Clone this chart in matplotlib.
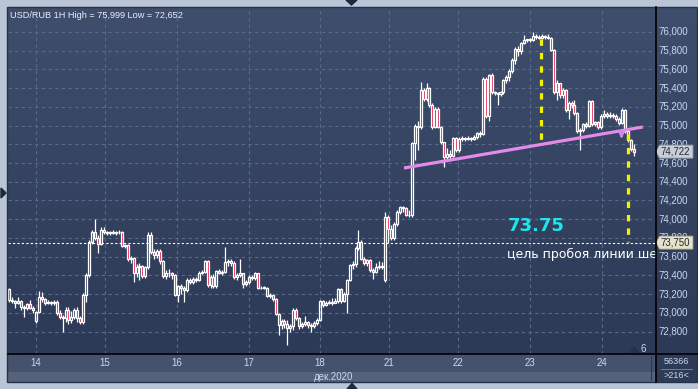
import numpy as np
import matplotlib.pyplot as plt
from matplotlib.patches import Polygon, Rectangle

W, H = 698, 389

# hourly USD/RUB candles, 11 Dec 14:00 .. 24 Dec
opens = [73.25, 73.14, 73.13, 73.10, 73.13, 73.06, 73.05, 73.09, 73.05, 72.91,
         73.01, 73.17, 73.15, 73.11, 73.12, 73.10, 73.12, 73.00, 72.96, 72.94,
         73.03, 72.92, 72.96, 73.03, 72.94, 72.90, 73.19, 73.40, 73.76, 73.86,
         73.80, 73.74, 73.88, 73.86, 73.85, 73.86, 73.85, 73.86, 73.86, 73.71,
         73.72, 73.57, 73.59, 73.43, 73.49, 73.50, 73.39, 73.49, 73.83, 73.65,
         73.62, 73.66, 73.55, 73.39, 73.43, 73.42, 73.40, 73.19, 73.29, 73.27,
         73.24, 73.35, 73.33, 73.36, 73.35, 73.43, 73.44, 73.55, 73.30, 73.38,
         73.29, 73.45, 73.43, 73.44, 73.54, 73.55, 73.53, 73.38, 73.40, 73.42,
         73.31, 73.33, 73.38, 73.37, 73.42, 73.26, 73.27, 73.27, 73.18, 73.19,
         73.15, 72.99, 72.87, 72.91, 72.88, 72.84, 72.86, 73.03, 72.94, 72.86,
         72.88, 72.90, 72.87, 72.86, 72.89, 72.92, 73.13, 73.08, 73.11, 73.12,
         73.11, 73.13, 73.25, 73.13, 73.20, 73.35, 73.51, 73.52, 73.69, 73.76,
         73.58, 73.53, 73.56, 73.46, 73.44, 73.49, 73.50, 73.35, 74.02, 73.90,
         73.80, 73.95, 74.08, 74.13, 74.12, 74.05, 74.04, 74.81, 75.00, 74.98,
         75.38, 75.28, 75.40, 75.22, 74.98, 75.18, 74.99, 74.82, 74.66, 74.70,
         74.68, 74.87, 74.74, 74.86, 74.87, 74.86, 74.87, 74.86, 74.88, 74.92,
         74.91, 75.50, 75.10, 75.54, 75.36, 75.35, 75.34, 75.36, 75.49, 75.52,
         75.58, 75.70, 75.82, 75.80, 75.88, 75.91, 75.92, 75.91, 75.96, 75.95,
         75.94, 75.96, 75.95, 75.94, 75.81, 75.36, 75.45, 75.33, 75.38, 75.17,
         75.24, 75.22, 75.13, 74.94, 74.95, 75.02, 75.00, 75.26, 75.02, 75.04,
         74.98, 75.10, 75.12, 75.10, 75.11, 75.10, 75.07, 75.03, 75.17, 74.94,
         74.85, 74.75]
highs = [73.27, 73.17, 73.14, 73.17, 73.14, 73.08, 73.10, 73.14, 73.07, 73.02,
         73.23, 73.22, 73.16, 73.14, 73.13, 73.14, 73.14, 73.03, 72.98, 73.06,
         73.06, 73.02, 73.05, 73.06, 72.97, 73.21, 73.42, 73.78, 73.88, 74.00,
         73.83, 73.92, 73.92, 73.87, 73.87, 73.88, 73.87, 73.88, 73.87, 73.74,
         73.74, 73.61, 73.60, 73.52, 73.53, 73.51, 73.50, 73.86, 73.86, 73.68,
         73.68, 73.68, 73.56, 73.46, 73.47, 73.44, 73.41, 73.30, 73.31, 73.29,
         73.37, 73.37, 73.38, 73.38, 73.45, 73.46, 73.56, 73.56, 73.40, 73.41,
         73.46, 73.47, 73.46, 73.70, 73.58, 73.57, 73.55, 73.42, 73.57, 73.43,
         73.35, 73.40, 73.40, 73.44, 73.43, 73.29, 73.29, 73.28, 73.21, 73.20,
         73.16, 73.00, 72.93, 72.93, 72.92, 72.88, 73.05, 73.05, 72.95, 72.90,
         72.97, 72.91, 72.89, 72.91, 72.94, 73.14, 73.14, 73.13, 73.14, 73.16,
         73.16, 73.27, 73.26, 73.22, 73.36, 73.52, 73.55, 73.71, 73.89, 73.78,
         73.60, 73.58, 73.57, 73.48, 73.53, 73.55, 73.54, 74.08, 74.04, 73.94,
         73.97, 74.10, 74.14, 74.14, 74.13, 74.10, 74.83, 75.02, 75.05, 75.47,
         75.40, 75.45, 75.41, 75.24, 75.20, 75.20, 75.00, 74.83, 74.76, 74.74,
         74.88, 74.88, 74.88, 74.89, 74.88, 74.89, 74.88, 74.90, 74.93, 74.94,
         75.52, 75.52, 75.55, 75.56, 75.37, 75.36, 75.37, 75.50, 75.54, 75.60,
         75.72, 75.84, 75.85, 75.89, 75.97, 75.93, 75.94, 75.999, 75.98, 75.97,
         75.98, 75.97, 75.98, 75.95, 75.82, 75.49, 75.46, 75.40, 75.39, 75.26,
         75.26, 75.27, 75.14, 74.97, 75.03, 75.04, 75.27, 75.27, 75.05, 75.05,
         75.12, 75.17, 75.14, 75.15, 75.13, 75.12, 75.09, 75.19, 75.18, 74.96,
         74.86, 74.80]
lows = [73.12, 73.10, 73.05, 73.09, 73.03, 72.96, 73.03, 73.04, 73.00, 72.89,
        73.00, 73.12, 73.08, 73.09, 73.08, 73.08, 72.98, 72.93, 72.80, 72.90,
        72.88, 72.89, 72.93, 72.90, 72.88, 72.88, 73.12, 73.38, 73.74, 73.78,
        73.64, 73.72, 73.84, 73.83, 73.83, 73.84, 73.83, 73.84, 73.70, 73.69,
        73.55, 73.53, 73.33, 73.38, 73.35, 73.37, 73.37, 73.47, 73.63, 73.58,
        73.59, 73.52, 73.37, 73.36, 73.38, 73.36, 73.18, 73.12, 73.20, 73.12,
        73.22, 73.31, 73.31, 73.33, 73.34, 73.41, 73.42, 73.28, 73.27, 73.27,
        73.27, 73.41, 73.40, 73.43, 73.50, 73.50, 73.36, 73.35, 73.38, 73.26,
        73.29, 73.31, 73.35, 73.35, 73.25, 73.25, 73.25, 73.17, 73.16, 73.13,
        72.98, 72.76, 72.83, 72.84, 72.652, 72.80, 72.82, 72.92, 72.83, 72.84,
        72.86, 72.84, 72.80, 72.84, 72.87, 72.91, 73.06, 73.07, 73.09, 73.08,
        73.10, 73.11, 73.11, 73.12, 73.00, 73.34, 73.47, 73.49, 73.67, 73.56,
        73.51, 73.50, 73.44, 73.36, 73.43, 73.47, 73.47, 73.33, 73.75, 73.78,
        73.78, 73.93, 74.06, 74.08, 74.03, 74.02, 74.02, 74.63, 74.74, 74.96,
        75.26, 75.26, 75.20, 74.96, 74.97, 74.97, 74.80, 74.56, 74.64, 74.64,
        74.66, 74.72, 74.72, 74.84, 74.84, 74.85, 74.84, 74.85, 74.86, 74.88,
        74.90, 75.08, 75.05, 75.34, 75.33, 75.22, 75.32, 75.34, 75.45, 75.48,
        75.56, 75.66, 75.74, 75.77, 75.87, 75.89, 75.89, 75.90, 75.93, 75.92,
        75.93, 75.93, 75.92, 75.80, 75.34, 75.27, 75.30, 75.30, 75.15, 75.07,
        75.19, 75.11, 74.92, 74.74, 74.93, 74.97, 74.98, 75.00, 75.00, 74.96,
        74.96, 75.08, 75.08, 75.08, 75.08, 75.05, 75.01, 75.02, 74.92, 74.82,
        74.73, 74.67]
closes = [73.14, 73.13, 73.10, 73.13, 73.06, 73.05, 73.09, 73.05, 73.03, 73.01,
          73.17, 73.15, 73.11, 73.12, 73.10, 73.12, 73.00, 72.96, 72.94, 73.03,
          72.92, 72.96, 73.03, 72.94, 72.90, 73.19, 73.40, 73.76, 73.86, 73.80,
          73.74, 73.88, 73.86, 73.85, 73.86, 73.85, 73.86, 73.86, 73.71, 73.72,
          73.57, 73.59, 73.43, 73.49, 73.50, 73.39, 73.49, 73.83, 73.65, 73.62,
          73.66, 73.55, 73.39, 73.43, 73.42, 73.40, 73.19, 73.29, 73.27, 73.24,
          73.35, 73.33, 73.36, 73.35, 73.43, 73.44, 73.55, 73.30, 73.38, 73.29,
          73.45, 73.43, 73.44, 73.54, 73.55, 73.53, 73.38, 73.40, 73.42, 73.31,
          73.33, 73.38, 73.37, 73.42, 73.26, 73.27, 73.27, 73.18, 73.19, 73.15,
          72.99, 72.87, 72.91, 72.88, 72.84, 72.86, 73.03, 72.94, 72.86, 72.88,
          72.90, 72.87, 72.86, 72.89, 72.92, 73.13, 73.08, 73.11, 73.12, 73.11,
          73.13, 73.25, 73.13, 73.20, 73.35, 73.51, 73.52, 73.69, 73.76, 73.58,
          73.53, 73.56, 73.46, 73.44, 73.49, 73.50, 73.49, 74.02, 73.90, 73.80,
          73.95, 74.08, 74.13, 74.12, 74.05, 74.04, 74.81, 75.00, 74.98, 75.38,
          75.28, 75.40, 75.22, 74.98, 75.18, 74.99, 74.82, 74.66, 74.70, 74.68,
          74.87, 74.74, 74.86, 74.87, 74.86, 74.87, 74.86, 74.88, 74.92, 74.91,
          75.50, 75.10, 75.54, 75.36, 75.35, 75.34, 75.36, 75.49, 75.52, 75.58,
          75.70, 75.82, 75.80, 75.88, 75.91, 75.92, 75.91, 75.96, 75.95, 75.94,
          75.96, 75.95, 75.94, 75.81, 75.36, 75.45, 75.33, 75.38, 75.17, 75.24,
          75.22, 75.13, 74.94, 74.95, 75.02, 75.00, 75.26, 75.02, 75.04, 74.98,
          75.10, 75.12, 75.10, 75.11, 75.10, 75.07, 75.03, 75.17, 74.94, 74.85,
          74.75, 74.722]

day_labels = ['14', '15', '16', '17', '18', '21', '22', '23', '24']
day_pos = [9, 32.3, 56.7, 81, 105, 128.3, 151.6, 176, 200.2]
price_levels = [72.8, 73.0, 73.2, 73.4, 73.6, 73.8, 74.0, 74.2, 74.4,
                74.6, 74.8, 75.0, 75.2, 75.4, 75.6, 75.8, 76.0]
last_price = 74.722
target_price = 73.75
neck_x = [133.4, 214.1]
neck_y = [74.547, 74.985]
drop1_x, drop1_y = 179.7, [75.93, 74.78]
drop2_x, drop2_y = 209.1, [74.91, 73.76]

BG_TOP = np.array([62, 78, 108]) / 255
BG_BOT = np.array([44, 57, 87]) / 255
RED = '#e8123c'
GRID = '#596a8a'
LBL = '#c9d8ef'


def fbox(x0, y0, x1, y1):
    return [x0 / W, 1 - y1 / H, (x1 - x0) / W, (y1 - y0) / H]


def frect(x0, y0, x1, y1, color, z=0):
    fig.add_artist(Rectangle((x0 / W, 1 - y1 / H), (x1 - x0) / W, (y1 - y0) / H,
                             transform=fig.transFigure, color=color, zorder=z, lw=0))


fig = plt.figure(figsize=(W / 100, H / 100), dpi=100)
fig.patch.set_facecolor('#b9c4d4')

# gradient background for chart + price column
bg = fig.add_axes(fbox(7, 7, 697, 354))
g = np.linspace(0, 1, 256)[:, None, None]
bg.imshow(BG_TOP + (BG_BOT - BG_TOP) * g, aspect='auto', extent=(0, 1, 0, 1))
bg.set_axis_off()

# date strip
frect(7, 354, 656, 372, '#45526d')
frect(7, 372, 656, 382, '#54627c')
frect(656, 354, 697, 382, '#2e3b57')
frect(650.5, 356, 651.5, 381, '#2a3550', 2)

ax = fig.add_axes(fbox(8, 7, 656, 354))
ax.set_facecolor('none')
ax.set_xlim(-0.44, 218.55)
ax.set_ylim(72.560, 76.267)
ax.set_axis_off()

for p in price_levels:
    ax.axhline(p, color=GRID, lw=0.8, ls=(0, (3, 3)), zorder=1)
for d in day_pos:
    ax.axvline(d, color=GRID, lw=0.8, ls=(0, (3, 3)), zorder=1)

o = np.array(opens)
h = np.array(highs)
l = np.array(lows)
c = np.array(closes)
idx = np.arange(len(c))
top = np.maximum(o, c)
bot = np.minimum(o, c)
ax.vlines(idx, top, h, color='white', lw=0.9, zorder=3)
ax.vlines(idx, l, bot, color='white', lw=0.9, zorder=3)
body = np.maximum(top - bot, 0.004)
faces = [RED if cc < oo else 'none' for oo, cc in zip(o, c)]
ax.bar(idx, body, bottom=bot, width=0.68, color=faces, edgecolor='white',
       linewidth=0.9, zorder=4)

# target level
ax.axhline(target_price, color='white', lw=0.8, ls=(0, (2, 2)), zorder=2)

# neckline and projections
ax.plot(neck_x, neck_y, color='#e48ae8', lw=2.3, zorder=5, solid_capstyle='butt')
ax.plot([drop1_x, drop1_x], drop1_y, color='#f2f200', lw=2.3, ls=(0, (2, 2.2)), zorder=5)
ax.plot([drop2_x, drop2_x], drop2_y, color='#f2f200', lw=2.3, ls=(0, (2, 2.2)), zorder=5)
ax.annotate('', xy=(206.9, 74.83), xytext=(206.9, 74.94),
            arrowprops=dict(arrowstyle='-|>', color='#c88be6', lw=1.6,
                            mutation_scale=8), zorder=6)

ax.text(168.5, 73.927, '73.75', color='#1ee6ef', fontsize=13, fontweight='bold',
        family='DejaVu Sans', va='center', ha='left', zorder=6)
ax.text(168.1, 73.62, 'цель пробоя линии шеи', color='white', fontsize=9,
        family='DejaVu Sans', va='center', ha='left', zorder=6, clip_on=True)

# date labels
for d, lab in zip(day_pos, day_labels):
    ax.text(d, -0.026, lab, transform=ax.get_xaxis_transform(), color=LBL,
            fontsize=7, family='Liberation Sans', ha='center', va='center', clip_on=False)
fig.text(334 / W, 1 - 376.5 / H, 'дек.2020', color=LBL, fontsize=7,
         family='Liberation Sans', ha='center', va='center')

# price column
axr = fig.add_axes(fbox(656, 7, 697, 354))
axr.set_facecolor('none')
axr.set_xlim(0, 41)
axr.set_ylim(ax.get_ylim())
axr.set_axis_off()
for p in price_levels:
    axr.text(2.5, p, f'{p:,.3f}'.replace('.', ','), color=LBL, fontsize=7,
             family='Liberation Sans', va='center', ha='left', zorder=2)

th = 0.07
for p, fc, ec in [(last_price, '#c9cdd5', '#8a92a2'), (target_price, '#e5e3c7', '#9a9880')]:
    axr.add_patch(Polygon([(0, p), (3.5, p + th), (37, p + th), (37, p - th), (3.5, p - th)],
                          closed=True, facecolor=fc, edgecolor=ec, lw=0.6, zorder=3,
                          clip_on=False))
    axr.text(4, p, f'{p:,.3f}'.replace('.', ','), color='#1f2a3c', fontsize=7,
             family='Liberation Sans', va='center', ha='left', zorder=4)

fig.text(676 / W, 1 - 362 / H, '56366', color=LBL, fontsize=6.5,
         family='Liberation Sans', ha='center', va='center')
fig.add_artist(plt.Line2D([661 / W, 692 / W], [1 - 368.5 / H] * 2, color='#7d8aa3',
                          lw=0.6, transform=fig.transFigure))
fig.text(676 / W, 1 - 375.5 / H, '>216<', color=LBL, fontsize=6.5,
         family='Liberation Sans', ha='center', va='center')
fig.text(643 / W, 1 - 349.5 / H, '6', color=LBL, fontsize=7,
         family='Liberation Sans', ha='center', va='center')
fig.add_artist(Polygon([(631 / W, 1 - 352 / H), (638 / W, 1 - 352 / H), (634.5 / W, 1 - 347 / H)],
                       closed=True, color='#243049', transform=fig.transFigure))

# frame lines
fig.add_artist(plt.Line2D([8 / W, 697 / W], [1 - 354 / H] * 2, color='black', lw=1.2,
                          transform=fig.transFigure))
fig.add_artist(plt.Line2D([656 / W] * 2, [1 - 7 / H, 1 - 382 / H], color='black', lw=1.2,
                          transform=fig.transFigure))
fig.add_artist(Rectangle((7 / W, 1 - 382 / H), 690 / W, 375 / H, transform=fig.transFigure,
                         fill=False, edgecolor='#27314a', lw=1))

# title
fig.text(10 / W, 1 - 15 / H, 'USD/RUB 1H High = 75,999 Low = 72,652', color='#eaeff8',
         fontsize=6.6, family='Liberation Sans', ha='left', va='center')

# little scroll triangles
tri = '#1c2740'
fig.add_artist(Polygon([(1 / W, 1 - 188 / H), (1 / W, 1 - 198 / H), (6 / W, 1 - 193 / H)],
                       closed=True, color=tri, transform=fig.transFigure))
fig.add_artist(Polygon([(346 / W, 1 - 0 / H), (357 / W, 1 - 0 / H), (351.5 / W, 1 - 5 / H)],
                       closed=True, color=tri, transform=fig.transFigure))
fig.add_artist(Polygon([(347 / W, 1 - 389 / H), (357 / W, 1 - 389 / H), (352 / W, 1 - 383.5 / H)],
                       closed=True, color=tri, transform=fig.transFigure))

fig.savefig('out.png', dpi=100, facecolor=fig.get_facecolor())
